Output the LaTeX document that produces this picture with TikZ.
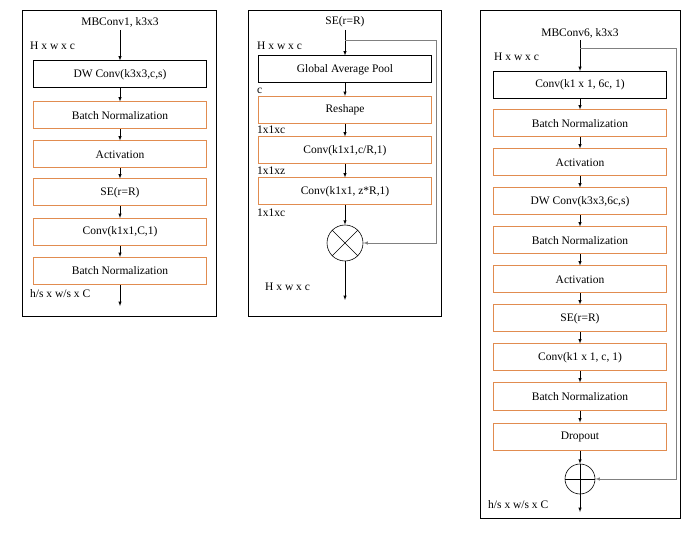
\documentclass[tikz,border=0pt]{standalone}
\usepackage{fontspec}
\setmainfont{Liberation Serif}
\begin{document}
\begin{tikzpicture}[x=1pt,y=-1pt,font=\fontsize{11.5}{13}\selectfont,
  bx/.style={draw=orange!80!red!70!brown,line width=1pt,minimum width=173pt,minimum height=27pt,inner sep=0pt},
  bk/.style={draw=black,line width=1pt,minimum width=173pt,minimum height=27pt,inner sep=0pt},
  fr/.style={draw=black,line width=0.6pt},
  ar/.style={-latex,line width=0.5pt},
  sk/.style={draw=gray,line width=0.6pt},
  lb/.style={anchor=west,inner sep=0pt}]
\definecolor{oc}{RGB}{225,140,80}
\tikzset{bx/.append style={draw=oc}}
\useasboundingbox (0,0) rectangle (696,534);
% panel 1
\draw[fr] (22,10) rectangle (216,316);
\node (t1) at (120,22) {MBConv1, k3x3};
\coordinate (s1) at (120,30);
\node[lb] at (30,46) {H x w x c};
\node[bk] (a1) at (120,74.5) {DW Conv(k3x3,c,s)};
\node[bx] (a2) at (120,115.5) {Batch Normalization};
\node[bx] (a3) at (120,154.5) {Activation};
\node[bx] (a4) at (120,192.5) {SE(r=R)};
\node[bx] (a5) at (120,232) {Conv(k1x1,C,1)};
\node[bx] (a6) at (120,271) {Batch Normalization};
\node[lb] at (30,294) {h/s x w/s x C};
\coordinate (e1) at (120,306);
\draw[ar] (s1) -- (a1);
\draw[ar] (a1) -- (a2); \draw[ar] (a2) -- (a3); \draw[ar] (a3) -- (a4);
\draw[ar] (a4) -- (a5); \draw[ar] (a5) -- (a6); \draw[ar] (a6) -- (e1);
% panel 2
\draw[fr] (248,10) rectangle (441,316);
\node (t2) at (345,22) {SE(r=R)};
\coordinate (s2) at (345,30);
\node[lb] at (257,46) {H x w x c};
\node[bk] (b1) at (345,69.5) {Global Average Pool};
\node[lb] at (257,91) {c};
\node[bx] (b2) at (345,110) {Reshape};
\node[lb] at (257,130) {1x1xc};
\node[bx] (b3) at (345,150.5) {Conv(k1x1,c/R,1)};
\node[lb] at (257,171) {1x1xz};
\node[bx] (b4) at (345,191.5) {Conv(k1x1, z*R,1)};
\node[lb] at (257,213) {1x1xc};
\node[draw,circle,minimum size=36pt,inner sep=0pt,line width=0.6pt] (m2) at (345,243) {};
\draw[line width=0.6pt] (m2.north west) -- (m2.south east) (m2.north east) -- (m2.south west);
\node[lb] at (265,287) {H x w x c};
\coordinate (e2) at (345,300);
\draw[ar] (s2) -- (b1); \draw[ar] (b1) -- (b2); \draw[ar] (b2) -- (b3);
\draw[ar] (b3) -- (b4); \draw[ar] (b4) -- (m2); \draw[ar] (m2) -- (e2);
\coordinate (k2) at (345,40);
\draw[sk,-latex] (k2) -- (436,40) -- (436,243) -- (m2);
% panel 3
\draw[fr] (480,10) rectangle (680,518);
\node (t3) at (580,33) {MBConv6, k3x3};
\coordinate (s3) at (580,40);
\node[lb] at (494,57) {H x w x c};
\node[bk] (c1) at (580,85) {Conv(k1 x 1, 6c, 1)};
\node[bx] (c2) at (580,123.5) {Batch Normalization};
\node[bx] (c3) at (580,162.5) {Activation};
\node[bx] (c4) at (580,201.5) {DW Conv(k3x3,6c,s)};
\node[bx] (c5) at (580,240.5) {Batch Normalization};
\node[bx] (c6) at (580,279.5) {Activation};
\node[bx] (c7) at (580,318.5) {SE(r=R)};
\node[bx] (c8) at (580,357.5) {Conv(k1 x 1, c, 1)};
\node[bx] (c9) at (580,396.5) {Batch Normalization};
\node[bx] (c10) at (580,436.5) {Dropout};
\node[draw,circle,minimum size=30pt,inner sep=0pt,line width=0.6pt] (p3) at (580,479) {};
\draw[line width=0.6pt] (p3.north) -- (p3.south) (p3.east) -- (p3.west);
\node[lb] at (488,505) {h/s x w/s x C};
\coordinate (e3) at (580,512);
\draw[ar] (s3) -- (c1);
\foreach \i/\j in {1/2,2/3,3/4,4/5,5/6,6/7,7/8,8/9,9/10} \draw[ar] (c\i) -- (c\j);
\draw[ar] (c10) -- (p3); \draw[ar] (p3) -- (e3);
\coordinate (k3) at (580,48);
\draw[sk,-latex] (k3) -- (676,48) -- (676,479) -- (p3);
\end{tikzpicture}
\end{document}
